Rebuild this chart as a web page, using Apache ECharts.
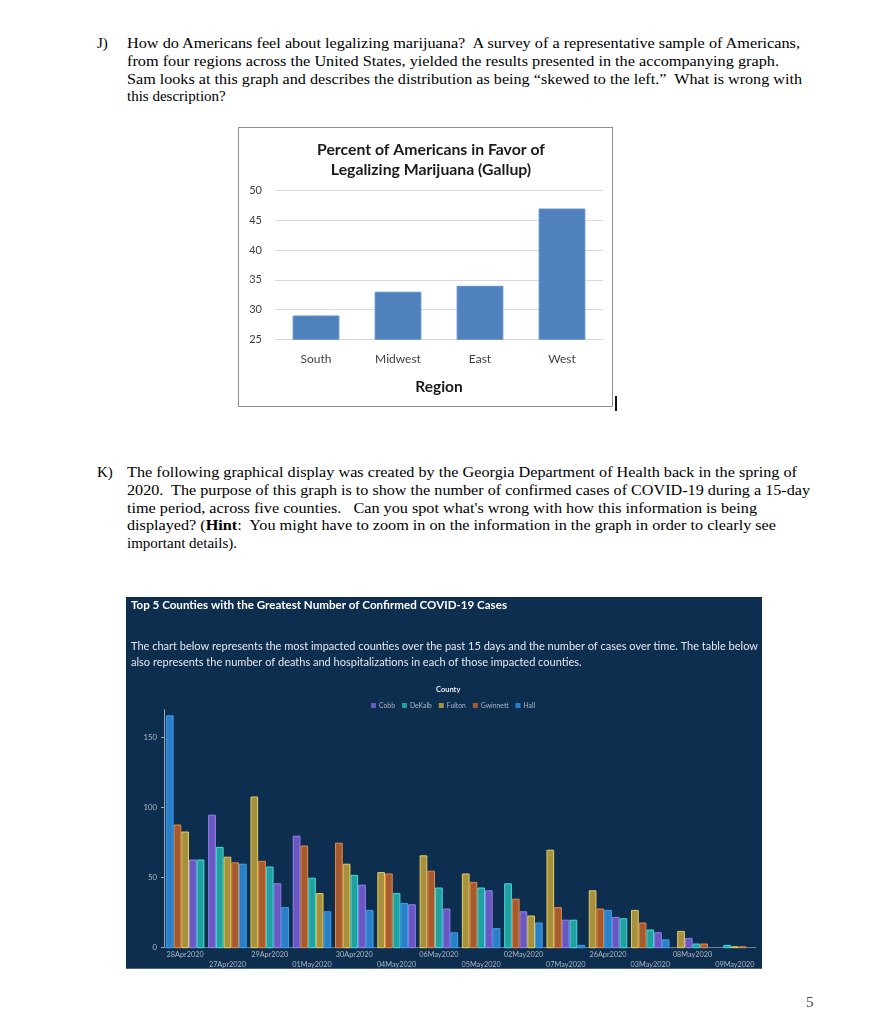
<!DOCTYPE html>
<html><head><meta charset="utf-8">
<script src="https://cdn.jsdelivr.net/npm/echarts@6/dist/echarts.min.js"></script>
<style>
html,body{margin:0;padding:0;background:#fff;}
#page{position:relative;width:889px;height:1024px;overflow:hidden;font-family:"Liberation Serif","Times New Roman",serif;font-size:15px;color:#000;}
.ln{position:absolute;white-space:nowrap;line-height:18px;height:18px;transform-origin:0 0;}
#box{position:absolute;left:238px;top:127px;width:373px;height:278px;border:1.5px solid #8f8f8f;}
#cursor{position:absolute;left:615px;top:396px;width:1.5px;height:15px;background:#111;}
#panel{position:absolute;left:126px;top:597px;width:636px;height:371px;background:#0e2e4f;border-bottom:1.5px solid #4a6684;}
#chart{position:absolute;left:0;top:0;width:889px;height:1024px;}
</style></head><body>
<div id="page">
<div class="ln" style="left:97px;top:34px">J)</div>
<div class="ln" data-w="673" style="left:127px;top:34px">How do Americans feel about legalizing marijuana?&nbsp; A survey of a representative sample of Americans,</div>
<div class="ln" data-w="652" style="left:127px;top:52px">from four regions across the United States, yielded the results presented in the accompanying graph.</div>
<div class="ln" data-w="675" style="left:127px;top:69.5px">Sam looks at this graph and describes the distribution as being “skewed to the left.”&nbsp; What is wrong with</div>
<div class="ln" style="left:127px;top:87px">this description?</div>
<div id="box"></div>
<div id="cursor"></div>
<div class="ln" style="left:97px;top:463px">K)</div>
<div class="ln" data-w="670" style="left:127px;top:463px">The following graphical display was created by the Georgia Department of Health back in the spring of</div>
<div class="ln" data-w="683" style="left:127px;top:481px">2020.&nbsp; The purpose of this graph is to show the number of confirmed cases of COVID-19 during a 15-day</div>
<div class="ln" data-w="630" style="left:127px;top:498.5px">time period, across five counties. &nbsp; Can you spot what's wrong with how this information is being</div>
<div class="ln" data-w="649" style="left:127px;top:516px">displayed? (<b>Hint</b>:&nbsp; You might have to zoom in on the information in the graph in order to clearly see</div>
<div class="ln" style="left:127px;top:534px">important details).</div>
<div id="panel"></div>
<div class="ln" style="left:806px;top:993px;color:#444">5</div>
<div id="chart"></div>
</div>
<script>
// ---- data: top chart ----
const regions = ['South', 'Midwest', 'East', 'West'];
const favorPct = [29, 33, 34, 47];
// ---- data: bottom chart ----
const dates = ['28Apr2020','27Apr2020','29Apr2020','01May2020','30Apr2020','04May2020','06May2020','05May2020','02May2020','07May2020','26Apr2020','03May2020','08May2020','09May2020'];
const counties = ['Cobb', 'DeKalb', 'Fulton', 'Gwinnett', 'Hall'];
const cobb     = [63, 95, 46, 80, 45, 31, 28, 41, 26, 20, 22, 11, 7, null];
const dekalb   = [63, 72, 58, 50, 52, 39, 43, 43, 46, 20, 21, 13, 3, 2];
const fulton   = [83, 65, 108, 39, 60, 54, 66, 53, 23, 70, 41, 27, 12, 1];
const gwinnett = [88, 61, 62, 73, 75, 53, 55, 47, 35, 29, 28, 18, 3, 1];
const hall     = [166, 60, 29, 26, 27, 32, 11, 14, 18, 2, 27, 6, null, null];
const yTicks = [0, 50, 100, 150];

// fit text lines
document.querySelectorAll('.ln[data-w]').forEach(el => {
  const w = el.getBoundingClientRect().width;
  const t = +el.dataset.w;
  if (w > 0) el.style.transform = 'scaleX(' + (t / w) + ')';
});

const countyVals = [cobb, dekalb, fulton, gwinnett, hall];
const fills   = ['#6a57c2', '#22a0a0', '#a8913e', '#a65b2f', '#2a7fc6'];
const strokes = ['#9483f0', '#44dede', '#e6cf5c', '#e48a4c', '#3da2ef'];

// rank counties within each date (descending, stable)
const rankInfo = dates.map((d, i) => {
  const present = countyVals.map((arr, k) => ({ k, v: arr[i] })).filter(o => o.v != null);
  present.sort((a, b) => b.v - a.v);
  const r = {};
  present.forEach((o, j) => { r[o.k] = j; });
  return { r, n: present.length };
});

const countySeries = counties.map((name, k) => ({
  type: 'custom',
  name: name,
  xAxisIndex: 1, yAxisIndex: 1,
  itemStyle: { color: fills[k] },
  encode: { x: 0, y: 1 },
  data: dates.map((d, i) => countyVals[k][i] == null ? null : [i, countyVals[k][i], rankInfo[i].r[k], rankInfo[i].n]).filter(x => x),
  renderItem: function (params, api) {
    const cat = api.value(0), val = api.value(1), rank = api.value(2), n = api.value(3);
    const base = api.coord([cat, 0]);
    const top = api.coord([cat, val]);
    const band = api.size([1, 0])[0];
    const w = band * 0.182;
    const x0 = base[0] - n * w / 2 + rank * w;
    return {
      type: 'rect',
      shape: { x: x0 + 0.5, y: top[1] + 0.5, width: w - 1, height: Math.max(base[1] - top[1] - 0.5, 0.5) },
      style: { fill: fills[k], stroke: strokes[k], lineWidth: 1 }
    };
  }
}));

const chart = echarts.init(document.getElementById('chart'), null, { renderer: 'canvas' });
chart.setOption({
  animation: false,
  backgroundColor: 'transparent',
  title: [{
    text: 'Percent of Americans in Favor of\nLegalizing Marijuana (Gallup)',
    left: 426, top: 135, textAlign: 'center',
    textStyle: { fontFamily: 'Lato', fontWeight: 'bold', fontSize: 15.8, lineHeight: 20, color: '#1a1a1a' }
  }],
  graphic: [
    { type: 'text', left: 131, top: 599, style: { text: 'Top 5 Counties with the Greatest Number of Confirmed COVID-19 Cases', fill: '#ffffff', font: 'bold 11.6px Lato' } },
    { type: 'text', left: 131, top: 641, style: { text: 'The chart below represents the most impacted counties over the past 15 days and the number of cases over time. The table below', fill: '#e4e9f0', font: '11px Lato' } },
    { type: 'text', left: 131, top: 657, style: { text: 'also represents the number of deaths and hospitalizations in each of those impacted counties.', fill: '#e4e9f0', font: '11px Lato' } },
    { type: 'text', left: 436, top: 686, style: { text: 'County', fill: '#e8ecf2', font: 'bold 7.5px Lato' } }
  ],
  legend: {
    data: counties, left: 366, top: 697, itemWidth: 5, itemHeight: 5, itemGap: 7, icon: 'rect',
    textStyle: { color: '#aab4c2', fontSize: 6.8, fontFamily: 'Lato', padding: [0, 0, 0, -2] }
  },
  grid: [
    { left: 275, top: 190.7, width: 328, height: 148.6, outerBoundsMode: 'none' },
    { left: 164, top: 709.7, width: 592, height: 238, outerBoundsMode: 'none' }
  ],
  xAxis: [{
    type: 'category', gridIndex: 0, data: regions,
    axisLine: { show: true, lineStyle: { color: '#d9d9d9' } }, axisTick: { show: false },
    axisLabel: { color: '#404040', fontSize: 12, fontFamily: 'Lato', margin: 14 },
    name: 'Region', nameLocation: 'middle', nameGap: 40,
    nameTextStyle: { fontFamily: 'Lato', fontWeight: 'bold', fontSize: 15.5, color: '#1a1a1a' }
  }, {
    type: 'category', gridIndex: 1, data: dates,
    axisLine: { show: true, lineStyle: { color: '#6f8296', width: 1 } }, axisTick: { show: false },
    axisLabel: {
      interval: 0, color: '#aeb8c5', fontSize: 7.3, fontFamily: 'Lato', margin: 1.5, lineHeight: 10,
      formatter: (v, i) => (i % 2 ? '\n' + v : v)
    }
  }],
  yAxis: [{
    type: 'value', gridIndex: 0, min: 25, max: 50, interval: 5,
    axisLine: { show: false }, axisTick: { show: false },
    axisLabel: { color: '#404040', fontSize: 11, fontFamily: 'Lato', margin: 13 },
    splitLine: { lineStyle: { color: '#d9d9d9', width: 1 } }
  }, {
    type: 'value', gridIndex: 1, min: 0, max: 170, interval: 50,
    axisLine: { show: true, lineStyle: { color: '#9aa6b4', width: 1 } },
    axisTick: { show: true, length: 3, customValues: yTicks, lineStyle: { color: '#9aa6b4' } },
    axisLabel: { customValues: yTicks, color: '#aeb8c5', fontSize: 7.8, fontFamily: 'Lato', margin: 7 },
    splitLine: { show: false }
  }],
  series: [{
    type: 'bar', xAxisIndex: 0, yAxisIndex: 0, data: favorPct, barCategoryGap: '43%',
    itemStyle: { color: '#4f81bd', borderColor: '#5f8fca', borderWidth: 1 }
  }].concat(countySeries)
});
</script>
</body></html>
